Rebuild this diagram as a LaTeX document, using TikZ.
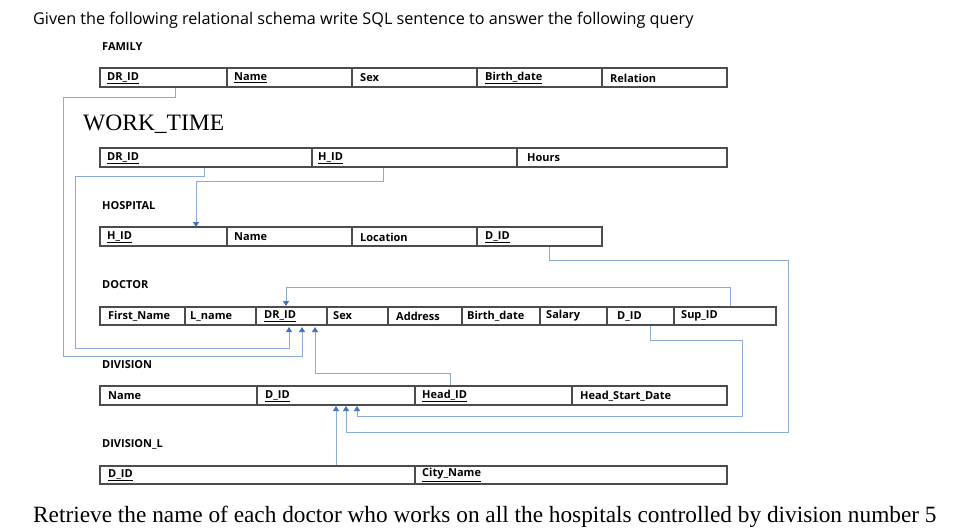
\documentclass[tikz,border=0pt]{standalone}
\usepackage{fontspec}
\setmainfont{Liberation Serif}
\newfontfamily\lab{Open Sans}
\newfontfamily\opn{Open Sans}
\usetikzlibrary{arrows.meta}
\definecolor{ln}{HTML}{8EAADB}
\definecolor{ar}{HTML}{4472C4}
\tikzset{
 rowbox/.style={draw=black!70,line width=1.3pt},
 cell/.style={anchor=west,inner sep=0pt,font=\lab\bfseries\fontsize{11}{12}\selectfont},
 ttl/.style={anchor=west,inner sep=0pt,font=\lab\bfseries\fontsize{11}{12}\selectfont},
 fk/.style={draw=ln,line width=1pt},
 fka/.style={fk,-{Triangle[width=6pt,length=5pt,color=ar]}},
}
\newcommand{\ul}[1]{\underline{#1}}
\begin{document}
\begin{tikzpicture}[x=1pt,y=-1pt]
\useasboundingbox (0,0) rectangle (959,528);
\node[anchor=west,inner sep=0pt,font=\opn\fontsize{16.2}{18}\selectfont] (q) at (33,20) {Given the following relational schema write SQL sentence to answer the following query};
% FAMILY
\node[ttl] (tf) at (102,47) {FAMILY};
\draw[rowbox] (100,68) rectangle (727,87);
\foreach \x in {227,352,477,602} \draw[rowbox] (\x,68) -- (\x,87);
\node[cell] (f1) at (107,78) {\ul{DR\_ID}};
\node[cell] (f2) at (234,78) {\ul{Name}};
\node[cell] (f3) at (360,78) {Sex};
\node[cell] (f4) at (485,78) {\ul{Birth\_date}};
\node[cell] (f5) at (610,78) {Relation};
% WORK_TIME
\node[anchor=west,inner sep=0pt,font=\fontsize{23.5}{26}\selectfont] (tw) at (83,124) {WORK\_TIME};
\draw[rowbox] (100,148) rectangle (727,167);
\foreach \x in {312,517} \draw[rowbox] (\x,148) -- (\x,167);
\node[cell] (w1) at (107,158) {\ul{DR\_ID}};
\node[cell] (w2) at (318,158) {\ul{H\_ID}};
\node[cell] (w3) at (527,158) {Hours};
% HOSPITAL
\node[ttl] (th) at (102,206) {HOSPITAL};
\draw[rowbox] (100,227) rectangle (602,246);
\foreach \x in {227,352,477} \draw[rowbox] (\x,227) -- (\x,246);
\node[cell] (h1) at (107,237) {\ul{H\_ID}};
\node[cell] (h2) at (234,237) {Name};
\node[cell] (h3) at (360,237) {Location};
\node[cell] (h4) at (485,237) {\ul{D\_ID}};
% DOCTOR
\node[ttl] (td) at (102,285) {DOCTOR};
\draw[rowbox] (100,307) rectangle (776,325);
\foreach \x in {185,256,327,388,462,540,607,674} \draw[rowbox] (\x,307) -- (\x,325);
\node[cell] (d1) at (108,316) {First\_Name};
\node[cell] (d2) at (190,316) {L\_name};
\node[cell] (d3) at (264,316) {\ul{DR\_ID}};
\node[cell] (d4) at (333,316) {Sex};
\node[cell] (d5) at (396,316) {Address};
\node[cell] (d6) at (467,316) {Birth\_date};
\node[cell] (d7) at (546,316) {Salary};
\node[cell] (d8) at (617,316) {D\_ID};
\node[cell] (d9) at (681,316) {Sup\_ID};
% DIVISION
\node[ttl] (tv) at (102,365) {DIVISION};
\draw[rowbox] (100,386) rectangle (727,405);
\foreach \x in {257,415,572} \draw[rowbox] (\x,386) -- (\x,405);
\node[cell] (v1) at (108,396) {Name};
\node[cell] (v2) at (265,396) {\ul{D\_ID}};
\node[cell] (v3) at (422,396) {\ul{Head\_ID}};
\node[cell] (v4) at (580,396) {Head\_Start\_Date};
% DIVISION_L
\node[ttl] (tl) at (102,444) {DIVISION\_L};
\draw[rowbox] (100,466) rectangle (727,484);
\draw[rowbox] (415,466) -- (415,484);
\node[cell] (l1) at (108,475) {\ul{D\_ID}};
\node[cell] (l2) at (422,475) {\ul{City\_Name}};
\node[anchor=west,inner sep=0pt,font=\fontsize{23.3}{25}\selectfont] (ans) at (33,517) {Retrieve the name of each doctor who works on all the hospitals controlled by division number 5};
% connector endpoints
\coordinate (fdr) at (175,88);
\coordinate (wdr) at (204,168);
\coordinate (wh) at (383,168);
\coordinate (hh) at (196,227);
\coordinate (hd) at (549,247);
\coordinate (dd) at (650,326);
\coordinate (dsup) at (730,306);
\coordinate (ddr1) at (289,327);
\coordinate (ddr2) at (302,327);
\coordinate (ddr3) at (315,327);
\coordinate (ddrt) at (286,306);
\coordinate (vh) at (450,385);
\coordinate (vd1) at (336,406);
\coordinate (vd2) at (346,406);
\coordinate (vd3) at (357,406);
\coordinate (ld) at (336,465);
% connectors
\draw[fka] (fdr) |- (63,97) |- (302,356) -- (ddr2);
\draw[fka] (wdr) |- (75,176) |- (289,348) -- (ddr1);
\draw[fka] (wh) |- (196,181) -- (hh);
\draw[fka] (hd) |- (788,260) |- (346,432) -- (vd2);
\draw[fka] (dd) |- (742,340) |- (357,416) -- (vd3);
\draw[fka] (vh) |- (315,373) -- (ddr3);
\draw[fka] (ld) -- (vd1);
\draw[fka] (dsup) |- (286,287) -- (ddrt);
\end{tikzpicture}
\end{document}
